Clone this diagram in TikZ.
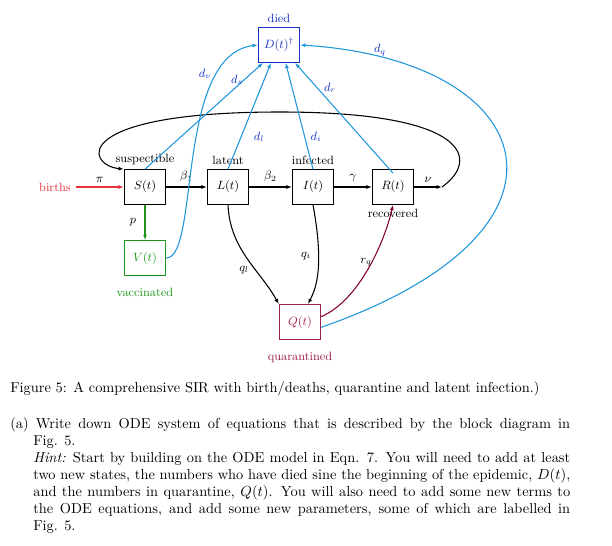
\documentclass[tikz,border=0pt]{standalone}
\usepackage{tikz}
\usetikzlibrary{positioning,arrows.meta,calc}
\definecolor{dblue}{RGB}{20,50,200}
\definecolor{lblue}{RGB}{30,150,220}
\definecolor{dgreen}{RGB}{30,150,30}
\definecolor{qred}{RGB}{160,30,80}
\definecolor{rqred}{RGB}{130,0,50}
\definecolor{bred}{RGB}{230,50,60}
\tikzset{
box/.style={draw,thick,minimum width=31pt,minimum height=26pt,font=\small},
flow/.style={-{Latex[length=4pt]},thick},
death/.style={-{Latex[length=4pt]},thick,lblue},
lab/.style={font=\small},
dlab/.style={font=\small,dblue}
}
\begin{document}
\begin{tikzpicture}[x=0.75pt,y=-0.75pt]
  \useasboundingbox (0,0) rectangle (612,546);
  % compartments
  \node[box] (S) at (145,187) {$S(t)$};
  \node[box] (L) at (228,187) {$L(t)$};
  \node[box] (I) at (313,187) {$I(t)$};
  \node[box] (R) at (393,187) {$R(t)$};
  \node[box,dblue] (D) at (279,45) {$D(t)^\dagger$};
  \node[box,dgreen] (V) at (145,258) {$V(t)$};
  \node[box,qred] (Q) at (300,322) {$Q(t)$};
  \coordinate (nu) at (442,187);
  \node[lab,bred] (births) at (55,187) {births};
  % labels
  \node[lab,above=0pt of S] (sl) {suspectible};
  \node[lab,above=0pt of L] (ll) {latent};
  \node[lab,above=0pt of I] (il) {infected};
  \node[lab,below=0pt of R] (rl) {recovered};
  \node[lab,dblue,above=0pt of D] (dl) {died};
  \node[lab,dgreen,below=6pt of V] (vl) {vaccinated};
  \node[lab,qred,below=6pt of Q] (ql) {quarantined};
  % flows
  \draw[flow,bred] (births) -- node[above,black,font=\small]{$\pi$} (S);
  \draw[flow] (S) -- node[above,font=\small]{$\beta_1$} (L);
  \draw[flow] (L) -- node[above,font=\small]{$\beta_2$} (I);
  \draw[flow] (I) -- node[above,font=\small]{$\gamma$} (R);
  \draw[flow] (R) -- node[above,font=\small]{$\nu$} (nu);
  \draw[flow] (nu) .. controls (480,160) and (470,112) .. (280,112)
    .. controls (70,112) and (85,165) .. (S.north west);
  \draw[flow,dgreen] (S) -- node[left=3pt,black,font=\small]{$p$} (V);
  \draw[flow] (L.south) .. controls (230,250) and (260,270) .. (Q.north west);
  \draw[flow] (I.south) .. controls (325,270) and (315,290) .. ([xshift=6pt]Q.north);
  \draw[flow,rqred] ([yshift=4pt]Q.east) .. controls (360,300) and (385,240) .. (R.south);
  % deaths
  \draw[death] (V.east) .. controls (200,258) and (175,55) .. (D.west);
  \draw[death] (S.north) -- ([xshift=-12pt]D.south);
  \draw[death] (L.north) -- ([xshift=-6pt]D.south);
  \draw[death] (I.north) -- ([xshift=5pt]D.south);
  \draw[death] ([yshift=-3pt]R.north) -- ([xshift=12pt]D.south);
  \draw[death] ([yshift=-4pt]Q.east) .. controls (600,230) and (540,60) .. (D.east);
  \node[dlab] (lv) at (205,74) {$d_v$};
  \node[dlab] (ls) at (237,80) {$d_s$};
  \node[dlab] (ll2) at (259,137) {$d_l$};
  \node[dlab] (li) at (316,137) {$d_i$};
  \node[dlab] (lr) at (330,88) {$d_r$};
  \node[dlab] (lq) at (380,50) {$d_q$};
  \node[lab] (lql) at (244,270) {$q_l$};
  \node[lab] (lqi) at (306,256) {$q_i$};
  \node[lab] (lrq) at (366,262) {$r_q$};
  % caption and text
  \node[anchor=west,font=\fontsize{10.8}{13}\selectfont,inner sep=0pt] (cap) at (10,389) {Figure 5: A comprehensive SIR with birth/deaths, quarantine and latent infection.)};
  \node[anchor=north west,text width=420pt,align=justify,inner sep=0pt,
    font=\fontsize{10.8}{12.75}\selectfont] (q) at (10,417) {%
  (a)\hspace{0.5em}Write down ODE system of equations that is described by the block diagram in\linebreak
  \hspace*{1.6em}Fig. 5.\\
  \hspace*{1.6em}\textit{Hint:} Start by building on the ODE model in Eqn. 7. You will need to add at least\linebreak
  \hspace*{1.6em}two new states, the numbers who have died sine the beginning of the epidemic, $D(t)$,\linebreak
  \hspace*{1.6em}and the numbers in quarantine, $Q(t)$. You will also need to add some new terms to\linebreak
  \hspace*{1.6em}the ODE equations, and add some new parameters, some of which are labelled in\linebreak
  \hspace*{1.6em}Fig. 5.};
\end{tikzpicture}
\end{document}
